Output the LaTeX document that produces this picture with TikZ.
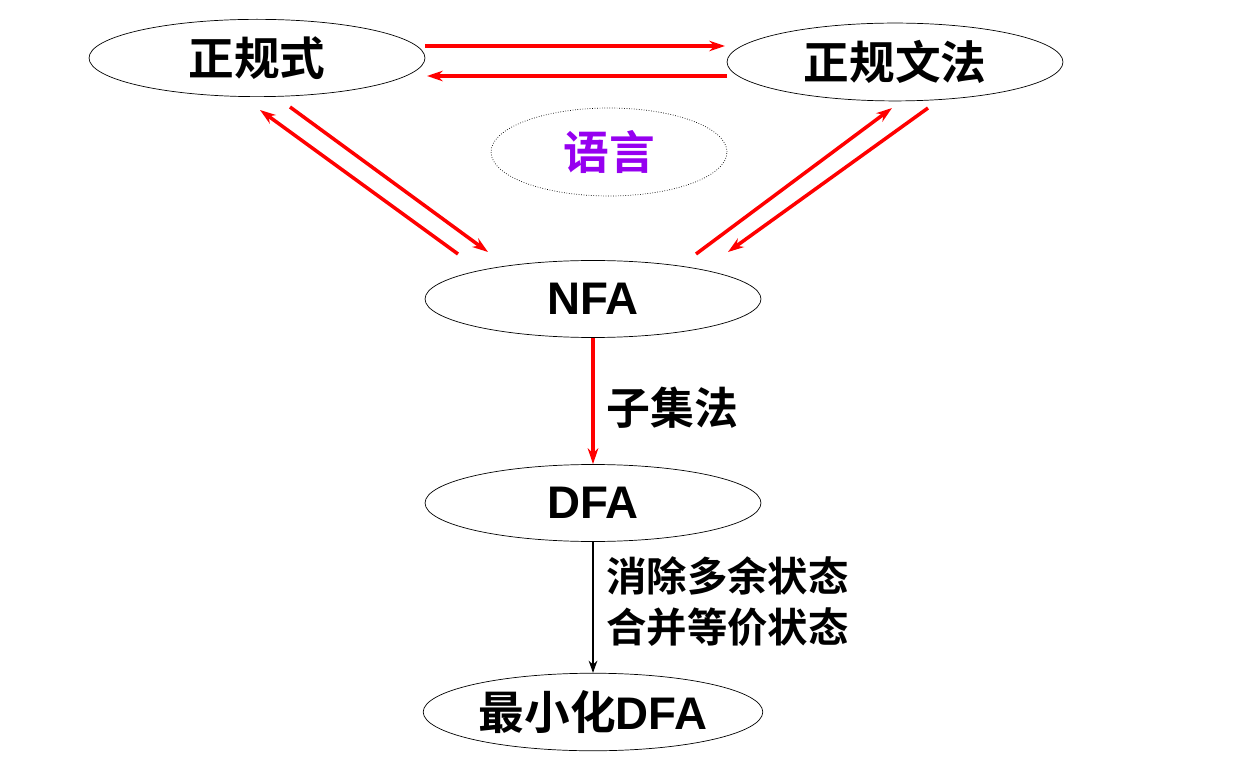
\documentclass[tikz,border=0pt]{standalone}
\usepackage{fontspec}
\setmainfont{Liberation Sans}
\newfontfamily\cjk{Noto Sans CJK SC}[BoldFont={* Bold}]
\usetikzlibrary{shapes.geometric,arrows.meta}
\definecolor{lang}{RGB}{150,0,240}

\tikzset{
    box/.style={draw, thin, ellipse, minimum width=6.72cm, minimum height=1.54cm, font=\bfseries\fontsize{26}{30}\selectfont},
    redarrow/.style={draw=red, line width=2pt, -{Stealth[length=9pt,width=6pt]}},
    blackarrow/.style={draw=black, line width=0.6pt, -{Stealth[length=7pt,width=5pt]}}
}

\begin{document}
\begin{tikzpicture}[x=0.02cm, y=-0.02cm]

        \useasboundingbox (0,0) rectangle (1236,766);

        \node[box] (zgs) at (257,58) {\cjk 正规式};
        \node[box] (zgwf) at (895,62) {\cjk 正规文法};
        \node[box, draw, densely dotted, minimum width=4.72cm, minimum height=1.76cm, text=lang] (yy) at (609,152) {\cjk 语言};
        \node[box] (nfa) at (593,299) {NFA};
        \node[box] (dfa) at (593,503) {DFA};
        \node[box] (mdfa) at (593,712) {{\cjk 最小化}DFA};

        % top pair
        \coordinate (a1) at (425,46);
        \coordinate (a2) at (725,46);
        \coordinate (b1) at (727,76);
        \coordinate (b2) at (427,76);
        \draw[redarrow] (a1) -- (a2);
        \draw[redarrow] (b1) -- (b2);

        % left pair
        \coordinate (c1) at (290,107);
        \coordinate (c2) at (488,252);
        \coordinate (d1) at (458,254);
        \coordinate (d2) at (260,110);
        \draw[redarrow] (c1) -- (c2);
        \draw[redarrow] (d1) -- (d2);

        % right pair
        \coordinate (e1) at (696,254);
        \coordinate (e2) at (892,108);
        \coordinate (f1) at (928,108);
        \coordinate (f2) at (728,252);
        \draw[redarrow] (e1) -- (e2);
        \draw[redarrow] (f1) -- (f2);

        % down
        \draw[redarrow] (nfa.south) -- (dfa.north);
        \node[font=\cjk\bfseries\fontsize{25}{28}\selectfont, anchor=west] (zjf) at (600,408) {子集法};

        \draw[blackarrow] (dfa.south) -- (mdfa.north);
        \node[font=\cjk\bfseries\fontsize{23}{29}\selectfont, anchor=west, align=left] (xc) at (600,602) {消除多余状态\\合并等价状态};

    \end{tikzpicture}
\end{document}
